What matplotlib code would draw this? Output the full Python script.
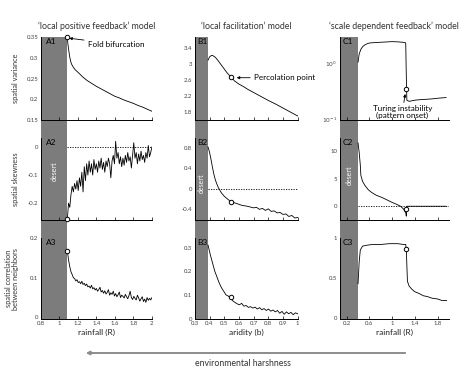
import numpy as np
import matplotlib
matplotlib.use('Agg')
import matplotlib.pyplot as plt
from matplotlib.patches import Rectangle, FancyArrowPatch
from matplotlib.transforms import blended_transform_factory

plt.rcParams['font.family'] = ['Lato', 'DejaVu Sans']

# --- column A: 'local positive feedback' model (x = rainfall R) ---
a_desert = 1.085
a1_x = [1.085, 1.09, 1.10, 1.11, 1.12, 1.13, 1.15, 1.17, 1.20, 1.25, 1.30, 1.35, 1.40,
        1.45, 1.50, 1.55, 1.60, 1.65, 1.70, 1.75, 1.80, 1.85, 1.90, 1.95, 2.00]
a1_y = [0.350, 0.335, 0.318, 0.303, 0.292, 0.285, 0.277, 0.271, 0.265, 0.254, 0.245,
        0.238, 0.231, 0.225, 0.219, 0.213, 0.207, 0.203, 0.198, 0.194, 0.190, 0.185,
        0.181, 0.176, 0.171]
a_grid = np.linspace(1.085, 2.0, 71)
a2_y = [-0.256, -0.20, -0.215, -0.17, -0.14, -0.16, -0.13, -0.15, -0.12, -0.155,
        -0.11, -0.14, -0.09, -0.16, -0.07, -0.12, -0.06, -0.10, -0.05, -0.09,
        -0.06, -0.10, -0.045, -0.08, -0.06, -0.09, -0.05, -0.075, -0.04, -0.08,
        -0.055, -0.09, -0.05, -0.07, -0.04, -0.06, -0.11, -0.05, -0.03, -0.06,
        0.02, -0.04, -0.02, -0.06, -0.035, -0.07, -0.04, -0.065, -0.03, -0.055,
        -0.02, -0.05, -0.035, -0.075, -0.03, 0.015, -0.04, -0.02, -0.06, -0.025,
        -0.05, -0.015, -0.045, -0.03, -0.055, -0.02, -0.04, 0.005, -0.035, -0.02, 0.0]
a3_y = [0.167, 0.145, 0.128, 0.115, 0.108, 0.100, 0.098, 0.092, 0.095, 0.088,
        0.090, 0.085, 0.091, 0.083, 0.086, 0.080, 0.084, 0.077, 0.079, 0.074,
        0.081, 0.072, 0.075, 0.069, 0.073, 0.066, 0.070, 0.076, 0.064, 0.068,
        0.061, 0.067, 0.059, 0.063, 0.070, 0.056, 0.062, 0.058, 0.066, 0.054,
        0.060, 0.052, 0.057, 0.064, 0.050, 0.056, 0.053, 0.049, 0.058, 0.052,
        0.047, 0.055, 0.066, 0.050, 0.045, 0.053, 0.048, 0.044, 0.056, 0.049,
        0.041, 0.047, 0.052, 0.040, 0.046, 0.038, 0.050, 0.043, 0.048, 0.044, 0.050]
a_marks = [0.350, -0.256, 0.167]

# --- column B: 'local facilitation' model (x = aridity b) ---
b_desert = 0.39
b_perc = 0.547
b1_x = [0.39, 0.40, 0.41, 0.42, 0.44, 0.46, 0.48, 0.50, 0.52, 0.547, 0.57, 0.60,
        0.63, 0.66, 0.70, 0.75, 0.80, 0.85, 0.90, 0.95, 1.00]
b1_y = [3.10, 3.18, 3.21, 3.22, 3.17, 3.08, 2.98, 2.88, 2.78, 2.67, 2.58, 2.50,
        2.44, 2.37, 2.29, 2.19, 2.09, 2.00, 1.90, 1.80, 1.70]
b2_x = [0.39, 0.40, 0.41, 0.42, 0.43, 0.44, 0.45, 0.46, 0.48, 0.50, 0.52, 0.547,
        0.58, 0.62, 0.66, 0.70, 0.72, 0.74, 0.76, 0.78, 0.80, 0.82, 0.84, 0.86,
        0.88, 0.90, 0.92, 0.94, 0.96, 0.98, 1.00]
b2_y = [0.82, 0.72, 0.58, 0.42, 0.28, 0.17, 0.09, 0.02, -0.08, -0.15, -0.20, -0.26,
        -0.29, -0.33, -0.35, -0.38, -0.37, -0.41, -0.39, -0.43, -0.40, -0.45, -0.44,
        -0.48, -0.47, -0.51, -0.50, -0.55, -0.53, -0.58, -0.57]
b_grid = np.linspace(0.39, 1.0, 41)
b3_y = [0.31, 0.27, 0.235, 0.20, 0.175, 0.15, 0.13, 0.115, 0.10, 0.095, 0.087,
        0.075, 0.068, 0.062, 0.058, 0.064, 0.052, 0.055, 0.047, 0.050, 0.044,
        0.048, 0.040, 0.046, 0.037, 0.042, 0.034, 0.040, 0.031, 0.036, 0.028,
        0.034, 0.022, 0.030, 0.018, 0.028, 0.020, 0.026, 0.016, 0.024, 0.020]
b_marks = [2.67, -0.26, 0.089]

# --- column C: 'scale dependent feedback' model (x = rainfall R) ---
c_desert = 0.40
c_turing = 1.25
c1_x = [0.40, 0.42, 0.45, 0.48, 0.52, 0.56, 0.60, 0.70, 0.80, 0.90, 1.00, 1.10,
        1.20, 1.24, 1.25, 1.26, 1.30, 1.40, 1.50, 1.60, 1.70, 1.80, 1.95]
c1_y = [1.04, 1.45, 1.75, 1.95, 2.10, 2.20, 2.27, 2.31, 2.34, 2.37, 2.40, 2.38,
        2.33, 2.28, 0.60, 0.22, 0.21, 0.22, 0.225, 0.228, 0.232, 0.238, 0.245]
c2_x = [0.40, 0.42, 0.44, 0.45, 0.48, 0.52, 0.58, 0.64, 0.72, 0.82, 0.90, 1.00,
        1.08, 1.15, 1.20, 1.24, 1.25, 1.26, 1.40, 1.60, 1.80, 1.95]
c2_y = [11.5, 9.8, 7.5, 5.6, 4.5, 3.8, 3.0, 2.5, 2.0, 1.6, 1.2, 0.7,
        0.35, 0.0, -0.5, -1.2, -1.8, 0.0, 0.0, 0.0, 0.0, 0.0]
c3_x = [0.40, 0.42, 0.44, 0.48, 0.55, 0.65, 0.80, 0.95, 1.10, 1.20, 1.24, 1.25,
        1.27, 1.30, 1.35, 1.40, 1.47, 1.55, 1.62, 1.70, 1.80, 1.88, 1.96]
c3_y = [0.43, 0.70, 0.85, 0.90, 0.91, 0.92, 0.92, 0.93, 0.93, 0.92, 0.92, 0.86,
        0.46, 0.40, 0.36, 0.33, 0.31, 0.28, 0.27, 0.25, 0.24, 0.22, 0.22]
c_marks = [0.35, -0.5, 0.86]

titles = ["\u2018local positive feedback\u2019 model", "\u2018local facilitation\u2019 model",
          "\u2018scale dependent feedback\u2019 model"]
xlabels = ['rainfall (R)', 'aridity (b)', 'rainfall (R)']
ylabels = ['spatial variance', 'spatial skewness', 'spatial correlation\nbetween neighbors']

fig = plt.figure(figsize=(4.74, 3.89), dpi=100)

lefts = [0.0865, 0.411, 0.717]
widths = [0.234, 0.217, 0.230]
bottoms = [0.6915, 0.4344, 0.18]
heights = [0.2134, 0.211, 0.208]

axes = [[fig.add_axes([lefts[c], bottoms[r], widths[c], heights[r]]) for r in range(3)]
        for c in range(3)]

gray = '#7c7c7c'
lw = 0.6

xlims = [(0.8, 2.0), (0.3, 1.0), (0.08, 2.0)]
xticks = [[0.8, 1, 1.2, 1.4, 1.6, 1.8, 2], [0.3, 0.4, 0.5, 0.6, 0.7, 0.8, 0.9, 1],
          [0.2, 0.6, 1, 1.4, 1.8]]
xticklabels = [['0.8', '1', '1.2', '1.4', '1.6', '1.8', '2'],
               ['0.3', '0.4', '0.5', '0.6', '0.7', '0.8', '0.9', '1'],
               ['0.2', '0.6', '1', '1.4', '1.8']]
desert = [a_desert, b_desert, c_desert]
desert_y = [0.59, 0.45, 0.55]
label_dx = [0.045, 0.02, 0.025]

for c in range(3):
    for r in range(3):
        ax = axes[c][r]
        ax.set_facecolor('none')
        ax.set_xlim(xlims[c])
        for s in ['top', 'right']:
            ax.spines[s].set_visible(False)
        for s in ['left', 'bottom']:
            ax.spines[s].set_linewidth(0.7)
        ax.set_xticks(xticks[c])
        ax.tick_params(axis='x', direction='in', length=2, width=0.5,
                       labelsize=4.3, labelcolor='#444', pad=1.5)
        ax.tick_params(axis='y', direction='in', length=0, labelsize=4.3,
                       labelcolor='#444', pad=2)
        if r < 2:
            ax.set_xticklabels([])
        else:
            ax.set_xticklabels(xticklabels[c])
            ax.set_xlabel(xlabels[c], fontsize=6, color='#222', labelpad=2)
        ax.text(label_dx[c], 0.985, f"{'ABC'[c]}{r + 1}", transform=ax.transAxes,
                fontsize=6, ha='left', va='top', color='black')
    axes[c][0].set_title(titles[c], fontsize=6.3, color='#333', pad=5.5)
    # grey "desert" band spanning the full column
    tr = blended_transform_factory(axes[c][2].transData, fig.transFigure)
    y0 = bottoms[2]
    y1 = bottoms[0] + heights[0]
    fig.add_artist(Rectangle((xlims[c][0], y0), desert[c] - xlims[c][0], y1 - y0,
                             transform=tr, facecolor=gray, edgecolor='none', zorder=-1))
    axes[c][1].text((xlims[c][0] + desert[c]) / 2, desert_y[c], 'desert', rotation=90,
                    color='white', fontsize=5, ha='center', va='center',
                    transform=blended_transform_factory(axes[c][1].transData,
                                                        axes[c][1].transAxes))

mk = dict(marker='o', ms=3.2, mfc='white', mec='black', mew=0.7, zorder=5)
arrow = dict(arrowstyle='-|>', lw=0.6, color='black', mutation_scale=4)

# column A
ax = axes[0][0]
ax.plot(a1_x, a1_y, color='black', lw=lw)
ax.plot([a_desert], [a_marks[0]], **mk, clip_on=False)
ax.set_ylim(0.15, 0.35)
ax.set_yticks([0.15, 0.2, 0.25, 0.3, 0.35])
ax.set_yticklabels(['0.15', '0.2', '0.25', '0.3', '0.35'])
ax.annotate('Fold bifurcation', xy=(1.105, 0.347), xytext=(1.31, 0.333),
            fontsize=5.8, va='center', ha='left',
            arrowprops=dict(arrow, shrinkA=1, shrinkB=0))
ax = axes[0][1]
ax.plot(a_grid, a2_y, color='black', lw=lw)
ax.hlines(0, a_desert, 2.0, colors='black', linestyles=(0, (1.5, 1.5)), lw=0.6)
ax.plot([a_desert], [a_marks[1]], **mk, clip_on=False)
ax.set_ylim(-0.26, 0.032)
ax.set_yticks([-0.2, -0.1, 0])
ax.set_yticklabels(['-0.2', '-0.1', '0'])
ax = axes[0][2]
ax.plot(a_grid, a3_y, color='black', lw=lw)
ax.plot([a_desert], [a_marks[2]], **mk, clip_on=False)
ax.set_ylim(-0.004, 0.2)
ax.set_yticks([0, 0.1, 0.2])
ax.set_yticklabels(['0', '0.1', '0.2'])

# column B
ax = axes[1][0]
ax.plot(b1_x, b1_y, color='black', lw=lw)
ax.plot([b_perc], [b_marks[0]], **mk)
ax.set_ylim(1.6, 3.68)
ax.set_yticks([1.8, 2.2, 2.6, 3, 3.4])
ax.set_yticklabels(['1.8', '2.2', '2.6', '3', '3.4'])
ax.annotate('Percolation point', xy=(0.585, 2.66), xytext=(0.705, 2.66),
            fontsize=5.8, va='center', ha='left',
            arrowprops=dict(arrow, shrinkA=1, shrinkB=0))
ax = axes[1][1]
ax.plot(b2_x, b2_y, color='black', lw=lw)
ax.hlines(0, b_desert, 1.0, colors='black', linestyles=(0, (1.5, 1.5)), lw=0.6)
ax.plot([b_perc], [b_marks[1]], **mk)
ax.set_ylim(-0.62, 1.0)
ax.set_yticks([-0.4, 0, 0.4, 0.8])
ax.set_yticklabels(['-0.4', '0', '0.4', '0.8'])
ax = axes[1][2]
ax.plot(b_grid, b3_y, color='black', lw=lw)
ax.plot([b_perc], [b_marks[2]], **mk)
ax.set_ylim(-0.002, 0.34)
ax.set_yticks([0, 0.1, 0.2, 0.3])
ax.set_yticklabels(['0', '0.1', '0.2', '0.3'])

# column C
ax = axes[2][0]
ax.semilogy(c1_x, c1_y, color='black', lw=lw)
ax.plot([c_turing], [c_marks[0]], **mk)
ax.set_ylim(0.098, 2.9)
ax.set_yticks([0.1, 1])
ax.set_yticklabels([r'$10^{-1}$', r'$10^{0}$'])
ax.yaxis.set_minor_locator(matplotlib.ticker.NullLocator())
ax.annotate('Turing instability\n(pattern onset)', xy=(1.235, 0.30), xytext=(1.18, 0.135),
            fontsize=5.8, va='center', ha='center', linespacing=0.95,
            arrowprops=dict(arrow, shrinkA=0, shrinkB=1))
ax = axes[2][1]
ax.plot(c2_x, c2_y, color='black', lw=lw)
ax.hlines(0, c_desert, 2.0, colors='black', linestyles=(0, (1.5, 1.5)), lw=0.6)
ax.plot([c_turing], [c_marks[1]], **mk)
ax.set_ylim(-2.5, 12.4)
ax.set_yticks([0, 5, 10])
ax.set_yticklabels(['0', '5', '10'])
ax = axes[2][2]
ax.plot(c3_x, c3_y, color='black', lw=lw)
ax.plot([c_turing], [c_marks[2]], **mk)
ax.set_ylim(-0.01, 1.0)
ax.set_yticks([0, 0.5, 1])
ax.set_yticklabels(['0', '0.5', '1'])

# y labels on column A
for r in range(3):
    axes[0][r].set_ylabel(ylabels[r], fontsize=5.3, color='#333', linespacing=1.0)
    axes[0][r].yaxis.set_label_coords(-0.2, 0.5)

# environmental harshness arrow
fig.add_artist(FancyArrowPatch((408 / 474, 1 - 353 / 389), (83 / 474, 1 - 353 / 389),
                               transform=fig.transFigure, arrowstyle='-|>',
                               mutation_scale=5, lw=1.4, color='#8c8c8c'))
fig.text(243 / 474, 1 - 363 / 389, 'environmental harshness', fontsize=6.3,
         color='#333', ha='center', va='center')

fig.savefig('out.png', dpi=100)
